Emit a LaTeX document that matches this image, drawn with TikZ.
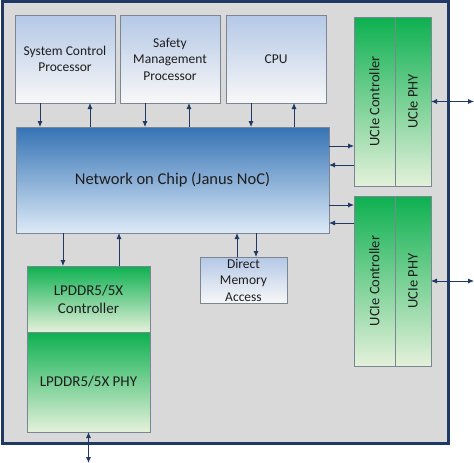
\documentclass[tikz,border=0pt]{standalone}
\usepackage{fontspec}
\setmainfont{Carlito}
\usepackage{xcolor}
\usetikzlibrary{arrows.meta}

\definecolor{frame}{HTML}{1F3864}
\definecolor{chipbg}{HTML}{D9D9D9}
\definecolor{edge}{HTML}{7A8694}
\definecolor{ink}{HTML}{1E1E1E}
\definecolor{paleblue}{HTML}{B4C8E6}
\definecolor{nocblue}{HTML}{3573B5}
\definecolor{noclight}{HTML}{DDEAF7}
\definecolor{phygreen}{HTML}{0DB050}
\definecolor{phylight}{HTML}{E4F1DA}

\begin{document}
\begin{tikzpicture}[x=1pt,y=-1pt,
		blk/.style={draw=edge, line width=0.8pt, inner sep=2pt, outer sep=0pt, align=center, text=ink},
		core/.style={blk, top color=paleblue, bottom color=white!94!gray, font=\fontsize{13.5}{16.5}\selectfont},
		noc/.style={blk, top color=nocblue, bottom color=noclight, font=\fontsize{16.5}{19}\selectfont},
		phy/.style={blk, top color=phygreen, bottom color=phylight, font=\fontsize{15}{18}\selectfont},
		arr/.style={draw=frame, line width=0.8pt, -{Latex[length=6pt,width=5pt]}},
		both/.style={draw=frame, line width=0.8pt, {Latex[length=6pt,width=5pt]}-{Latex[length=6pt,width=5pt]}}]
	
	\useasboundingbox (0,0) rectangle (474,463);
	\draw[frame, line width=3pt, fill=chipbg] (2,1.5) rectangle (448,443);
	
	% top row
	\node[core, minimum width=100pt, minimum height=88pt] (scp) at (65,59) {System Control\\Processor};
	\node[core, minimum width=100pt, minimum height=88pt] (smp) at (170,59) {Safety\\Management\\Processor};
	\node[core, minimum width=100pt, minimum height=88pt] (cpu) at (276,59) {CPU};
	
	\node[noc, minimum width=313pt, minimum height=106pt] (noc) at (172.5,180) {Network on Chip (Janus NoC)};
	
	% UCIe blocks
	\node[phy, minimum width=41pt, minimum height=169pt] (ucactl) at (374.5,101.5) {};
	\node[phy, minimum width=36pt, minimum height=169pt] (ucaphy) at (413,101.5) {};
	\node[phy, minimum width=41pt, minimum height=170pt] (ucbctl) at (374.5,281) {};
	\node[phy, minimum width=36pt, minimum height=170pt] (ucbphy) at (413,281) {};
	\foreach \u in {ucactl,ucbctl}
		\node[rotate=90, text=ink, font=\fontsize{14.5}{17}\selectfont] at (\u) {UCIe Controller};
	\foreach \u in {ucaphy,ucbphy}
		\node[rotate=90, text=ink, font=\fontsize{14.5}{17}\selectfont] at (\u) {UCIe PHY};
	
	\node[core, minimum width=87pt, minimum height=46pt, inner sep=0pt] (dma) at (243.5,280) {Direct\\Memory\\Access};
	
	\node[phy, minimum width=123pt, minimum height=66pt] (lpctl) at (88.5,299) {LPDDR5/5X\\Controller};
	\node[phy, minimum width=123pt, minimum height=100pt] (lpphy) at (88.5,382) {LPDDR5/5X PHY};
	
	\coordinate (outa) at (474,101.5);
	\coordinate (outb) at (474,281);
	\coordinate (outl) at (88.5,463);
	
	% cores <-> noc
	\draw[arr] ([xshift=-25pt]scp.south) -- ([xshift=-25pt]scp.south |- noc.north);
	\draw[arr] ([xshift=25pt]scp.south |- noc.north) -- ([xshift=25pt]scp.south);
	\draw[arr] ([xshift=-25pt]smp.south) -- ([xshift=-25pt]smp.south |- noc.north);
	\draw[arr] ([xshift=19pt]smp.south |- noc.north) -- ([xshift=19pt]smp.south);
	\draw[arr] ([xshift=-25pt]cpu.south) -- ([xshift=-25pt]cpu.south |- noc.north);
	\draw[arr] ([xshift=18pt]cpu.south |- noc.north) -- ([xshift=18pt]cpu.south);
	
	% noc <-> ucie
	\draw[arr] ([yshift=34pt]noc.east) -- ([yshift=34pt]noc.east -| ucactl.west);
	\draw[arr] ([yshift=15pt]noc.east -| ucactl.west) -- ([yshift=15pt]noc.east);
	\draw[arr] ([yshift=-25pt]noc.east) -- ([yshift=-25pt]noc.east -| ucbctl.west);
	\draw[arr] ([yshift=-43pt]noc.east -| ucbctl.west) -- ([yshift=-43pt]noc.east);
	
	% noc <-> lpddr, dma
	\draw[arr] ([xshift=-25.5pt]lpctl.north |- noc.south) -- ([xshift=-25.5pt]lpctl.north);
	\draw[arr] ([xshift=30.5pt]lpctl.north) -- ([xshift=30.5pt]lpctl.north |- noc.south);
	\draw[arr] ([xshift=-6.5pt]dma.north) -- ([xshift=-6.5pt]dma.north |- noc.south);
	\draw[arr] ([xshift=12.5pt]dma.north |- noc.south) -- ([xshift=12.5pt]dma.north);
	
	% off-chip
	\draw[both] (ucaphy.east) -- (outa);
	\draw[both] (ucbphy.east) -- (outb);
	\draw[both] (lpphy.south) -- (outl);
\end{tikzpicture}
\end{document}
